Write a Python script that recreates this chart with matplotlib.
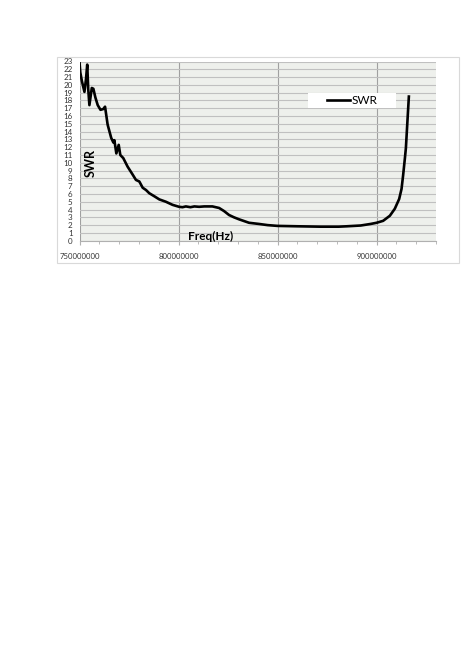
import numpy as np
import matplotlib.pyplot as plt
from matplotlib.patches import Rectangle
from matplotlib.ticker import MultipleLocator

plt.rcParams['font.family'] = ['Lato', 'DejaVu Sans']

# SWR sweep (frequency in MHz)
freq_mhz = [750.0, 750.4, 751.2, 752.5, 753.3, 753.9, 754.4, 755.0, 756.2, 757.0,
            758.0, 759.2, 760.6, 762.0, 762.9, 764.2, 766.0, 767.1, 767.6, 768.6,
            769.8, 770.6, 772.1, 774.3, 776.8, 778.5, 780.2, 781.9, 783.6, 785.2,
            787.8, 790.3, 793.6, 797.0, 800.3, 802.0, 803.7, 806.0, 808.0, 810.4,
            813.0, 817.1, 820.5, 823.0, 825.5, 828.0, 830.5, 835.6, 840.6, 845.0,
            850.0, 860.0, 871.5, 880.9, 885.0, 892.0, 897.0, 900.0, 903.3, 906.7,
            909.2, 911.4, 912.6, 913.4, 914.3, 914.8, 915.5, 916.3]
swr = [22.9, 21.6, 20.5, 19.1, 20.8, 22.6, 19.5, 17.4, 19.6, 19.5,
       18.4, 17.4, 16.8, 16.9, 17.2, 14.9, 13.2, 12.6, 12.9, 11.2,
       12.3, 11.0, 10.6, 9.5, 8.5, 7.8, 7.6, 6.8, 6.5, 6.1,
       5.7, 5.3, 5.0, 4.6, 4.35, 4.3, 4.4, 4.3, 4.4, 4.35,
       4.4, 4.4, 4.2, 3.8, 3.3, 3.0, 2.75, 2.3, 2.15, 2.0,
       1.9, 1.85, 1.8, 1.8, 1.85, 1.95, 2.15, 2.3, 2.55, 3.2,
       4.1, 5.35, 6.65, 8.4, 10.6, 11.9, 15.0, 18.5]

freq = np.array(freq_mhz) * 1e6
x_ticks = [750000000, 800000000, 850000000, 900000000]

W, H = 474, 670
fig = plt.figure(figsize=(W / 100, H / 100), dpi=100)

# outer chart border
fig.patches.append(Rectangle((57.3 / W, 1 - 263.3 / H), (459.3 - 57.3) / W, (263.3 - 57.3) / H,
                             transform=fig.transFigure, fill=False, edgecolor='#d9d9d9', lw=0.8))

ax = fig.add_axes([79.5 / W, 1 - 240.7 / H, (436 - 79.5) / W, (240.7 - 61.5) / H])
ax.set_facecolor('#eef0ec')
ax.plot(freq, swr, color='black', lw=1.9, label='SWR', zorder=3,
        solid_joinstyle='round')

ax.set_xlim(750e6, 930e6)
ax.set_ylim(0, 23)
ax.set_xticks(x_ticks)
ax.set_xticklabels([str(t) for t in x_ticks])
ax.xaxis.set_minor_locator(MultipleLocator(10e6))
ax.set_yticks(range(0, 24))

ax.grid(axis='y', color='#c0c0c0', lw=0.8)
ax.grid(axis='x', which='major', color='#a0a0a0', lw=0.8)
ax.set_axisbelow(True)

for s in ['top', 'right', 'left']:
    ax.spines[s].set_visible(False)
ax.spines['bottom'].set_color('#b0b0b0')
ax.spines['bottom'].set_linewidth(0.8)

ax.tick_params(axis='y', length=0, pad=5, labelsize=5.8, labelcolor='#333333')
ax.tick_params(axis='x', which='major', length=3, color='#b0b0b0', pad=6,
               labelsize=5.6, labelcolor='#333333')
ax.tick_params(axis='x', which='minor', length=2, color='#b0b0b0')

# axis titles sit inside the plot area, as in the original
fig.text(90.3 / W, 1 - 162.7 / H, 'SWR', rotation=90, ha='center', va='center',
         fontsize=9, fontweight='bold')
fig.text(210.8 / W, 1 - 236 / H, 'Freq(Hz)', ha='center', va='center',
         fontsize=8.5, fontweight='bold')

# legend on a white box
ax.add_patch(Rectangle((0.641, 0.7388), 0.2468, 0.087, transform=ax.transAxes,
                       facecolor='white', edgecolor='none', zorder=4))
leg = ax.legend(loc='center', bbox_to_anchor=(0.7644, 0.7824), frameon=False,
                fontsize=8.5, handlelength=2.0, handletextpad=0.1)
leg.set_zorder(5)

plt.savefig('out.png', dpi=100)
